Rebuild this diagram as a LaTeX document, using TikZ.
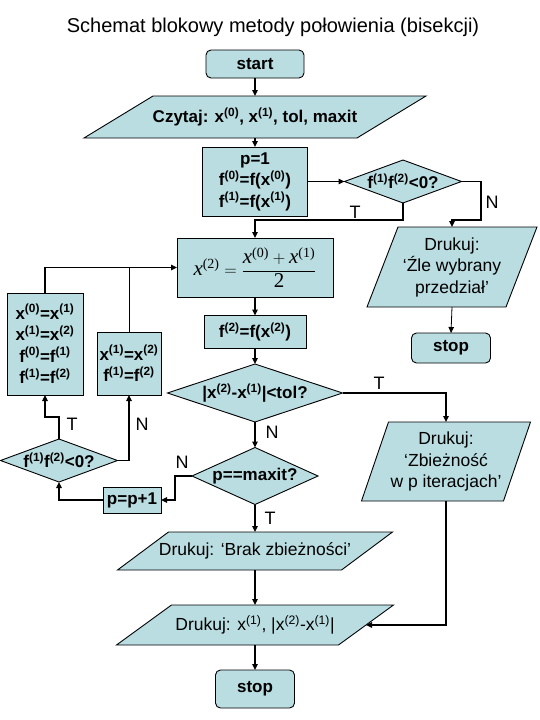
\documentclass[tikz,border=0pt]{standalone}
\usepackage{fontspec}
\setmainfont{Liberation Sans}
\newfontfamily\serif{Liberation Serif}
\usetikzlibrary{arrows.meta,calc}
\definecolor{boxfill}{RGB}{185,221,225}
\newcommand\sps[1]{\textsuperscript{(#1)}}
\newcommand\fx{\mbox{\serif\itshape\fontsize{21}{21}\selectfont x}}
\newcommand\fsup[1]{\mbox{\serif\fontsize{14}{14}\selectfont(#1)}}
\newcommand\ftwo{\mbox{\serif\fontsize{21}{21}\selectfont 2}}
\tikzset{
  shapeline/.style={draw=black, line width=0.9pt, fill=boxfill},
  txt/.style={inner sep=0pt, outer sep=0pt, align=center, font=\fontsize{17}{21.5}\selectfont\bfseries},
  txtn/.style={inner sep=0pt, outer sep=0pt, align=center, font=\fontsize{17.5}{21.5}\selectfont},
  conn/.style={line width=1.6pt, -{Triangle[length=6pt,width=5.5pt]}},
  thinconn/.style={line width=0.8pt, -{Triangle[length=6pt,width=5.5pt]}},
  thinline/.style={line width=0.8pt},
  lbl/.style={font=\fontsize{18}{20}\selectfont, inner sep=0pt},
}
% rectangle box: name,x,y,w,h,extra,text
\newcommand\rbox[7]{\node[txt,shapeline,#6,minimum width=#4pt,minimum height=#5pt] (#1) at (#2,#3) {#7};}
% diamond: name,x,y,w,h,text
\newcommand\dia[6]{%
  \path[shapeline] ({#2-#4/2},#3) -- (#2,{#3-#5/2}) -- ({#2+#4/2},#3) -- (#2,{#3+#5/2}) -- cycle;
  \node[txt,minimum width=#4pt,minimum height=#5pt] (#1) at (#2,#3) {#6};}
% parallelogram: name,x,y,w,h,slant,style,text
\newcommand\para[8]{%
  \path[shapeline] ({#2-#4/2-#6/2},{#3+#5/2}) -- ({#2+#4/2-#6/2},{#3+#5/2}) -- ({#2+#4/2+#6/2},{#3-#5/2}) -- ({#2-#4/2+#6/2},{#3-#5/2}) -- cycle;
  \node[#7,minimum width=#4pt,minimum height=#5pt] (#1) at (#2,#3) {#8};}
\begin{document}
\begin{tikzpicture}[x=1pt,y=-1pt]
\fill[white] (0,0) rectangle (540,720);
\useasboundingbox (0,0) rectangle (540,720);

\node[font=\fontsize{20}{24}\selectfont, inner sep=0pt] (title) at (273,27) {Schemat blokowy metody połowienia (bisekcji)};

\rbox{start}{255}{64}{98}{28}{rounded corners=5pt}{start}
\para{czytaj}{255}{117}{273}{42}{69}{txt}{Czytaj: x\sps0, x\sps1, tol, maxit}
\rbox{init}{255}{181.5}{105}{69}{}{p=1\\ f\sps0=f(x\sps0)\\ f\sps1=f(x\sps1)}
\dia{d1}{403}{181.5}{117}{43}{f\sps1f\sps2<0?}
\para{zle}{452}{267}{139}{80}{31}{txtn}{Drukuj:\\ ‘Źle wybrany\\ przedział’}
\rbox{stopA}{451}{348}{79}{30}{rounded corners=5pt}{stop}
\rbox{x2}{255}{267.5}{156}{59}{font=\fontsize{19}{20}\selectfont}{$\displaystyle \fx^{\fsup2}=\frac{\fx^{\fsup0}+\fx^{\fsup1}}{\ftwo}$}
\rbox{f2}{255}{332}{102}{33}{}{f\sps2=f(x\sps2)}
\dia{d2}{255}{393}{175}{58}{|x\sps2-x\sps1|<tol?}
\para{zb}{446}{461.5}{142}{79}{27}{txtn}{Drukuj:\\ ‘Zbieżność\\ w p iteracjach’}
\rbox{lbox}{45}{344}{76}{102}{}{x\sps0=x\sps1\\ x\sps1=x\sps2\\ f\sps0=f\sps1\\ f\sps1=f\sps2}
\rbox{mbox}{129}{363.5}{64}{63}{}{x\sps1=x\sps2\\ f\sps1=f\sps2}
\dia{d4}{59}{460.5}{117}{43}{f\sps1f\sps2<0?}
\rbox{pp}{132}{500}{58}{26}{}{p=p+1}
\dia{d3}{255}{476}{126}{57}{p==maxit?}
\para{brak}{255}{551}{224}{38}{51}{txtn}{Drukuj: ‘Brak zbieżności’}
\para{druk}{255}{625}{222}{40}{55}{txtn}{Drukuj: x\sps1, |x\sps2-x\sps1|}
\rbox{stopB}{255}{689}{79}{38}{rounded corners=5pt}{stop}

\coordinate (nR) at (481,220);
\coordinate (c1) at (175,476);

\draw[conn] (start) -- (czytaj);
\draw[conn] (czytaj) -- (init);
\draw[conn] (init.east) -- (d1.west);
\draw[conn] (d1.south) -- ++(0,17) -| (x2.north);
\draw[conn] (d1.east) -| (nR) -| (zle.north);
\draw[thinconn] (zle.south) -- (stopA.north);
\draw[conn] (x2) -- (f2);
\draw[conn] (f2) -- (d2.north);
\draw[conn] (d2.east) -| (zb.north);
\draw[conn] (d2.south) -- (d3.north);
\draw[conn] (d3.south) -- (brak.north);
\draw[conn] (d3.west) -- (c1) |- (pp.east);
\draw[conn] (pp.west) -| (d4.south);
\draw[conn] (d4.north) -- ++(0,-22) -| (lbox.south);
\draw[conn] (d4.east) -| (mbox.south);
\draw[conn] (lbox.north) |- (x2.west);
\draw[thinline] (mbox.north) -- (mbox.north |- x2.west);
\draw[conn] (brak.south) -- (druk.north);
\draw[conn] (zb.south) |- (druk.east);
\draw[conn] (druk.south) -- (stopB.north);

\node[lbl] (t1) at (355,212) {T};
\node[lbl] (n1) at (492,202) {N};
\node[lbl] (t2) at (379,383) {T};
\node[lbl] (n2) at (272,432) {N};
\node[lbl] (t3) at (270,518) {T};
\node[lbl] (n3) at (182,462) {N};
\node[lbl] (t4) at (72,424) {T};
\node[lbl] (n4) at (142,424) {N};
\end{tikzpicture}
\end{document}
